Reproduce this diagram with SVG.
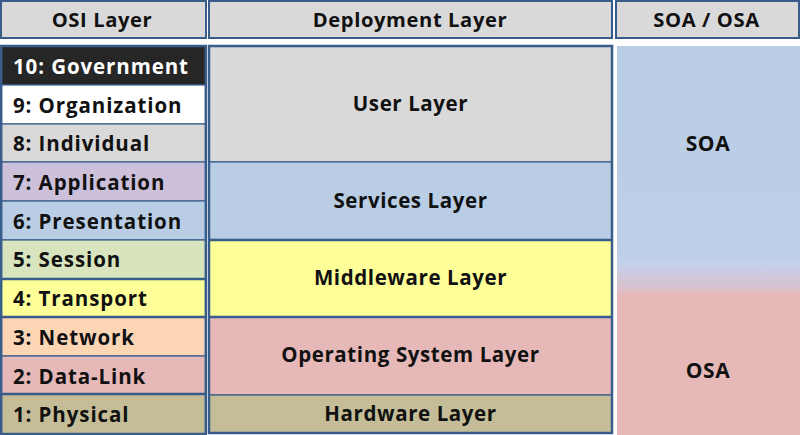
<svg xmlns="http://www.w3.org/2000/svg" width="800" height="435" viewBox="0 0 800 435">
<style>
  .hdr{fill:#D9D9D9;stroke:#385D8A;stroke-width:2}
  .box{stroke:#385D8A;stroke-width:1.2}
  .thick{fill:none;stroke:#385D8A;stroke-width:2.5}
  .tl{stroke:#385D8A;stroke-width:2.5}
  text{font-family:"Open Sans","Liberation Sans",sans-serif;font-weight:700;fill:#111}
  .ht{font-size:20.2px;text-anchor:middle;letter-spacing:0.6px}
  .lt{font-size:20.5px;letter-spacing:0.9px}
  .mt{font-size:20.5px;text-anchor:middle;letter-spacing:0.6px}
  .rt{font-size:21px;text-anchor:middle;letter-spacing:0.6px}
</style>
<defs>
  <linearGradient id="soaosa" gradientUnits="userSpaceOnUse" x1="0" y1="46" x2="0" y2="435">
    <stop offset="0" stop-color="#B9CDE5"/>
    <stop offset="0.53" stop-color="#BCCFE7"/>
    <stop offset="0.56" stop-color="#C5D1EA"/>
    <stop offset="0.62" stop-color="#D8C2CE"/>
    <stop offset="0.64" stop-color="#E6B9B8"/>
    <stop offset="1" stop-color="#E6B9B8"/>
  </linearGradient>
</defs>
<rect width="800" height="435" fill="#FFFFFF"/>

<g id="headers">
  <g id="hdr-osi"><rect class="hdr" x="1" y="1" width="205" height="37"/><text class="ht" x="102" y="27">OSI Layer</text></g>
  <g id="hdr-deploy"><rect class="hdr" x="209" y="1" width="403" height="37"/><text class="ht" x="410" y="27">Deployment Layer</text></g>
  <g id="hdr-soa"><rect class="hdr" x="616" y="1" width="183" height="37"/><text class="ht" x="706.5" y="27">SOA / OSA</text></g>
</g>

<g id="osi">
  <g id="osi10"><rect class="box" x="1" y="46" width="205" height="39" fill="#262626"/><text class="lt" x="13" y="74" style="fill:#FFFFFF">10: Government</text></g>
  <g id="osi9"><rect class="box" x="1" y="85" width="205" height="39" fill="#FFFFFF"/><text class="lt" x="13" y="113">9: Organization</text></g>
  <g id="osi8"><rect class="box" x="1" y="124" width="205" height="38" fill="#D9D9D9"/><text class="lt" x="13" y="151">8: Individual</text></g>
  <g id="osi7"><rect class="box" x="1" y="162" width="205" height="39" fill="#CCC0DA"/><text class="lt" x="13" y="190">7: Application</text></g>
  <g id="osi6"><rect class="box" x="1" y="201" width="205" height="39" fill="#B9CDE5"/><text class="lt" x="13" y="229">6: Presentation</text></g>
  <g id="osi5"><rect class="box" x="1" y="240" width="205" height="39" fill="#D7E4BD"/><text class="lt" x="13" y="267">5: Session</text></g>
  <g id="osi4"><rect class="box" x="1" y="279" width="205" height="38" fill="#FFFF99"/><text class="lt" x="13" y="306">4: Transport</text></g>
  <g id="osi3"><rect class="box" x="1" y="317" width="205" height="39" fill="#FCD5B5"/><text class="lt" x="13" y="345">3: Network</text></g>
  <g id="osi2"><rect class="box" x="1" y="356" width="205" height="38" fill="#E6B9B8"/><text class="lt" x="13" y="384">2: Data-Link</text></g>
  <g id="osi1"><rect class="box" x="1" y="394" width="205" height="40" fill="#C4BD97"/><text class="lt" x="13" y="422">1: Physical</text></g>
  <line class="tl" x1="1" y1="279" x2="206" y2="279"/>
  <line class="tl" x1="1" y1="317" x2="206" y2="317"/>
  <line class="tl" x1="1" y1="394" x2="206" y2="394"/>
  <rect class="thick" x="1.2" y="46" width="204.6" height="388"/>
</g>

<g id="deploy">
  <g id="user"><rect class="box" x="209" y="46" width="403" height="116" fill="#D9D9D9"/><text class="mt" x="410.5" y="111">User Layer</text></g>
  <g id="services"><rect class="box" x="209" y="162" width="403" height="78" fill="#B9CDE5"/><text class="mt" x="410.5" y="208">Services Layer</text></g>
  <g id="middleware"><rect class="box" x="209" y="240" width="403" height="77" fill="#FFFF99"/><text class="mt" x="410.5" y="285">Middleware Layer</text></g>
  <g id="os"><rect class="box" x="209" y="317" width="403" height="78" fill="#E6B9B8"/><text class="mt" x="410.5" y="362">Operating System Layer</text></g>
  <g id="hardware"><rect class="box" x="209" y="395" width="403" height="38" fill="#C4BD97"/><text class="mt" x="410.5" y="421">Hardware Layer</text></g>
  <line class="tl" x1="209" y1="240" x2="612" y2="240"/>
  <line class="tl" x1="209" y1="317" x2="612" y2="317"/>
  <rect class="thick" x="209" y="46" width="403" height="387"/>
</g>

<g id="soa-osa">
  <rect x="617" y="46" width="183" height="389" fill="url(#soaosa)"/>
  <text class="rt" x="708" y="151">SOA</text>
  <text class="rt" x="708" y="378">OSA</text>
</g>
</svg>
